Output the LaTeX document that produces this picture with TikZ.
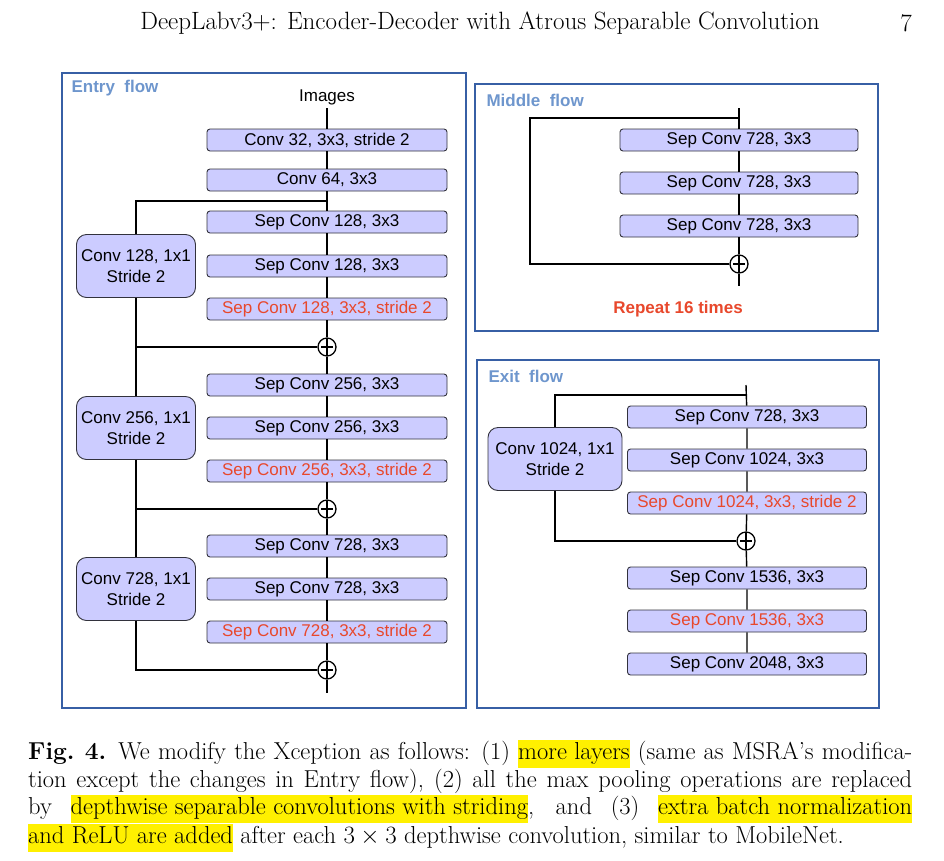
\documentclass[tikz,border=0pt]{standalone}
\usepackage{fontspec}
\newfontfamily\dsf{Liberation Sans}
\usetikzlibrary{calc}
\definecolor{boxfill}{RGB}{204,204,255}
\definecolor{boxline}{RGB}{50,50,60}
\definecolor{redtxt}{RGB}{232,72,44}
\definecolor{titleblue}{RGB}{110,150,205}
\definecolor{frameblue}{RGB}{55,95,165}
\definecolor{hly}{RGB}{255,240,0}
\newcommand{\hlx}[1]{{\setlength{\fboxsep}{0pt}\colorbox{hly}{\strut #1}}}
\begin{document}
\begin{tikzpicture}[x=1pt,y=-1pt,
  blk/.style={draw=boxline,line width=0.9pt,fill=boxfill,rounded corners=3pt,minimum width=240pt,minimum height=22pt,inner sep=0pt,font=\dsf\fontsize{17}{19}\selectfont},
  rblk/.style={blk,text=redtxt},
  sblk/.style={draw=boxline,line width=0.9pt,fill=boxfill,rounded corners=10pt,minimum height=63pt,inner sep=0pt,align=center,font=\dsf\fontsize{17}{21}\selectfont},
  plus/.style={circle,draw,line width=1.3pt,fill=white,minimum size=18pt,inner sep=0pt,path picture={\draw[line width=1.3pt] ($(path picture bounding box.west)+(3pt,0)$)--($(path picture bounding box.east)+(-3pt,0)$) ($(path picture bounding box.north)+(0,3pt)$)--($(path picture bounding box.south)+(0,-3pt)$);}},
  frame/.style={draw=frameblue,line width=1.2pt},
  ttl/.style={text=titleblue,font=\dsf\bfseries\fontsize{17}{19}\selectfont,anchor=west},
  ln/.style={line width=1.4pt}]
\useasboundingbox (0,0) rectangle (944,860);
% header
\node (hdr) at (480,23) {\fontsize{25}{30}\selectfont DeepLabv3+: Encoder-Decoder with Atrous Separable Convolution};
\node (pg) at (906,23) {\fontsize{25}{30}\selectfont 7};
% frames
\draw[frame] (62,73) rectangle (466,708);
\draw[frame] (475,84) rectangle (878,331);
\draw[frame] (477,360) rectangle (879,708);
\node[ttl] (t1) at (68,88) {Entry\ \ flow};
\node[ttl] (t2) at (483,100) {Middle\ \ flow};
\node[ttl] (t3) at (485,376) {Exit\ \ flow};
% entry
\node[font=\dsf\fontsize{17}{19}\selectfont] (img) at (327,97) {Images};
\node[blk] (c1) at (327,140) {Conv 32, 3x3, stride 2};
\node[blk] (c2) at (327,180) {Conv 64, 3x3};
\node[blk] (s1) at (327,222) {Sep Conv 128, 3x3};
\node[blk] (s2) at (327,266) {Sep Conv 128, 3x3};
\node[rblk] (s3) at (327,309) {Sep Conv 128, 3x3, stride 2};
\node[plus] (p1) at (327,347) {};
\node[blk] (s4) at (327,385) {Sep Conv 256, 3x3};
\node[blk] (s5) at (327,428) {Sep Conv 256, 3x3};
\node[rblk] (s6) at (327,471) {Sep Conv 256, 3x3, stride 2};
\node[plus] (p2) at (327,509) {};
\node[blk] (s7) at (327,546) {Sep Conv 728, 3x3};
\node[blk] (s8) at (327,589) {Sep Conv 728, 3x3};
\node[rblk] (s9) at (327,632) {Sep Conv 728, 3x3, stride 2};
\node[plus] (p3) at (327,670) {};
\coordinate (eend) at (327,693);
\coordinate (b1) at (327,201);
\node[sblk,minimum width=119pt] (l1) at (136,266) {Conv 128, 1x1\\Stride 2};
\node[sblk,minimum width=119pt] (l2) at (136,428) {Conv 256, 1x1\\Stride 2};
\node[sblk,minimum width=119pt] (l3) at (136,589) {Conv 728, 1x1\\Stride 2};
\draw[ln] (img.south)--(c1) (c1)--(c2) (c2)--(s1) (s1)--(s2) (s2)--(s3) (s3)--(p1) (p1)--(s4) (s4)--(s5) (s5)--(s6) (s6)--(p2) (p2)--(s7) (s7)--(s8) (s8)--(s9) (s9)--(p3) (p3)--(eend);
\draw[ln] (b1) -| (l1.north);
\draw[ln] (l1.south) |- (p1.west);
\draw[ln] (p1.west) -| (l2.north);
\draw[ln] (l2.south) |- (p2.west);
\draw[ln] (p2.west) -| (l3.north);
\draw[ln] (l3.south) |- (p3.west);
% middle
\coordinate (mt) at (739,108);
\coordinate (mb) at (739,118);
\coordinate (ml) at (530,190);
\node[blk,minimum width=238pt] (m1) at (739,140) {Sep Conv 728, 3x3};
\node[blk,minimum width=238pt] (m2) at (739,183) {Sep Conv 728, 3x3};
\node[blk,minimum width=238pt] (m3) at (739,226) {Sep Conv 728, 3x3};
\node[plus] (mp) at (739,264) {};
\coordinate (mend) at (739,286);
\node[text=redtxt,font=\dsf\bfseries\fontsize{17}{19}\selectfont] (rep) at (678,309) {Repeat 16 times};
\draw[ln] (mt)--(m1) (m1)--(m2) (m2)--(m3) (m3)--(mp) (mp)--(mend);
\draw[ln] (mb) -| (ml) |- (mp.west);
% exit
\coordinate (et) at (746,385);
\coordinate (eb) at (746,395);
\node[blk,minimum width=239pt] (e1) at (747,417) {Sep Conv 728, 3x3};
\node[blk,minimum width=239pt] (e2) at (747,460) {Sep Conv 1024, 3x3};
\node[rblk,minimum width=239pt] (e3) at (747,503) {Sep Conv 1024, 3x3, stride 2};
\node[plus] (ep) at (746,541) {};
\node[blk,minimum width=239pt] (f1) at (747,578) {Sep Conv 1536, 3x3};
\node[rblk,minimum width=239pt] (f2) at (747,621) {Sep Conv 1536, 3x3};
\node[blk,minimum width=239pt] (f3) at (747,664) {Sep Conv 2048, 3x3};
\node[sblk,minimum width=134pt] (el) at (555,459) {Conv 1024, 1x1\\Stride 2};
\draw[ln] (et)--(e1) (e1)--(e2) (e2)--(e3) (e3)--(ep) (ep)--(f1) (f1)--(f2) (f2)--(f3);
\draw[ln] (eb) -| (el.north);
\draw[ln] (el.south) |- (ep.west);
% caption
\node[anchor=north west,inner sep=0pt,text width=884pt,align=justify] (cap) at (28,740) {\fontsize{24.5}{28}\selectfont\noindent\textbf{Fig.\ 4.} We modify the Xception as follows: (1) \hlx{more layers} (same as MSRA's modifica-\linebreak tion except the changes in Entry flow), (2) all the max pooling operations are replaced\linebreak by \hlx{depthwise separable convolutions with striding}, and (3) \hlx{extra batch normalization}\linebreak \hlx{and ReLU are added} after each $3\times 3$ depthwise convolution, similar to MobileNet.};
\end{tikzpicture}
\end{document}
